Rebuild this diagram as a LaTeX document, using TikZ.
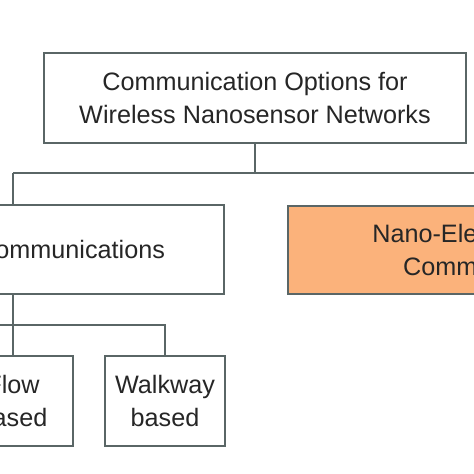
\documentclass[tikz,border=0pt]{standalone}
\usepackage{fontspec}
\setmainfont{Liberation Sans}
\definecolor{linegray}{HTML}{5A6666}
\definecolor{boxorange}{HTML}{FBB27B}
\definecolor{textdark}{HTML}{262626}
\begin{document}
\begin{tikzpicture}[x=1pt,y=-1pt,
  box/.style={draw=linegray, line width=2pt, fill=white, text=textdark, align=center,
    font=\fontsize{25.2}{32.5}\selectfont, inner sep=0pt},
  obox/.style={box, fill=boxorange},
  conn/.style={draw=linegray, line width=2pt}]
\useasboundingbox (0,0) rectangle (474,474);
\clip (0,0) rectangle (474,474);
\fill[white] (0,0) rectangle (474,474);
% nodes
\node[box, minimum width=422pt, minimum height=90pt] (top) at (255,98)
  {Communication Options for\\Wireless Nanosensor Networks};
\node[box, minimum width=422pt, minimum height=89pt] (mol) at (13,249.5)
  {Molecular Communications};
\node[obox, minimum width=418pt, minimum height=88pt] (nano) at (497,250)
  {Nano-Electromagnetic\\Communications};
\node[box, minimum width=120pt, minimum height=90pt] (flow) at (13,401)
  {Flow\\based};
\node[box, minimum width=120pt, minimum height=90pt] (walk) at (165,401)
  {Walkway\\based};
% junctions
\coordinate (j1) at (255,173);
\coordinate (jl) at (13,173);
\coordinate (jr) at (497,173);
\coordinate (bl) at (-139,325);
\coordinate (br) at (165,325);
% connectors
\draw[conn] (top.south) -- (j1);
\draw[conn] (jl) -- (jr);
\draw[conn] (jl) -- (mol.north);
\draw[conn] (jr) -- (nano.north);
\draw[conn] (mol.south) -- (flow.north);
\draw[conn] (bl) -- (br) -- (walk.north);
\end{tikzpicture}
\end{document}
